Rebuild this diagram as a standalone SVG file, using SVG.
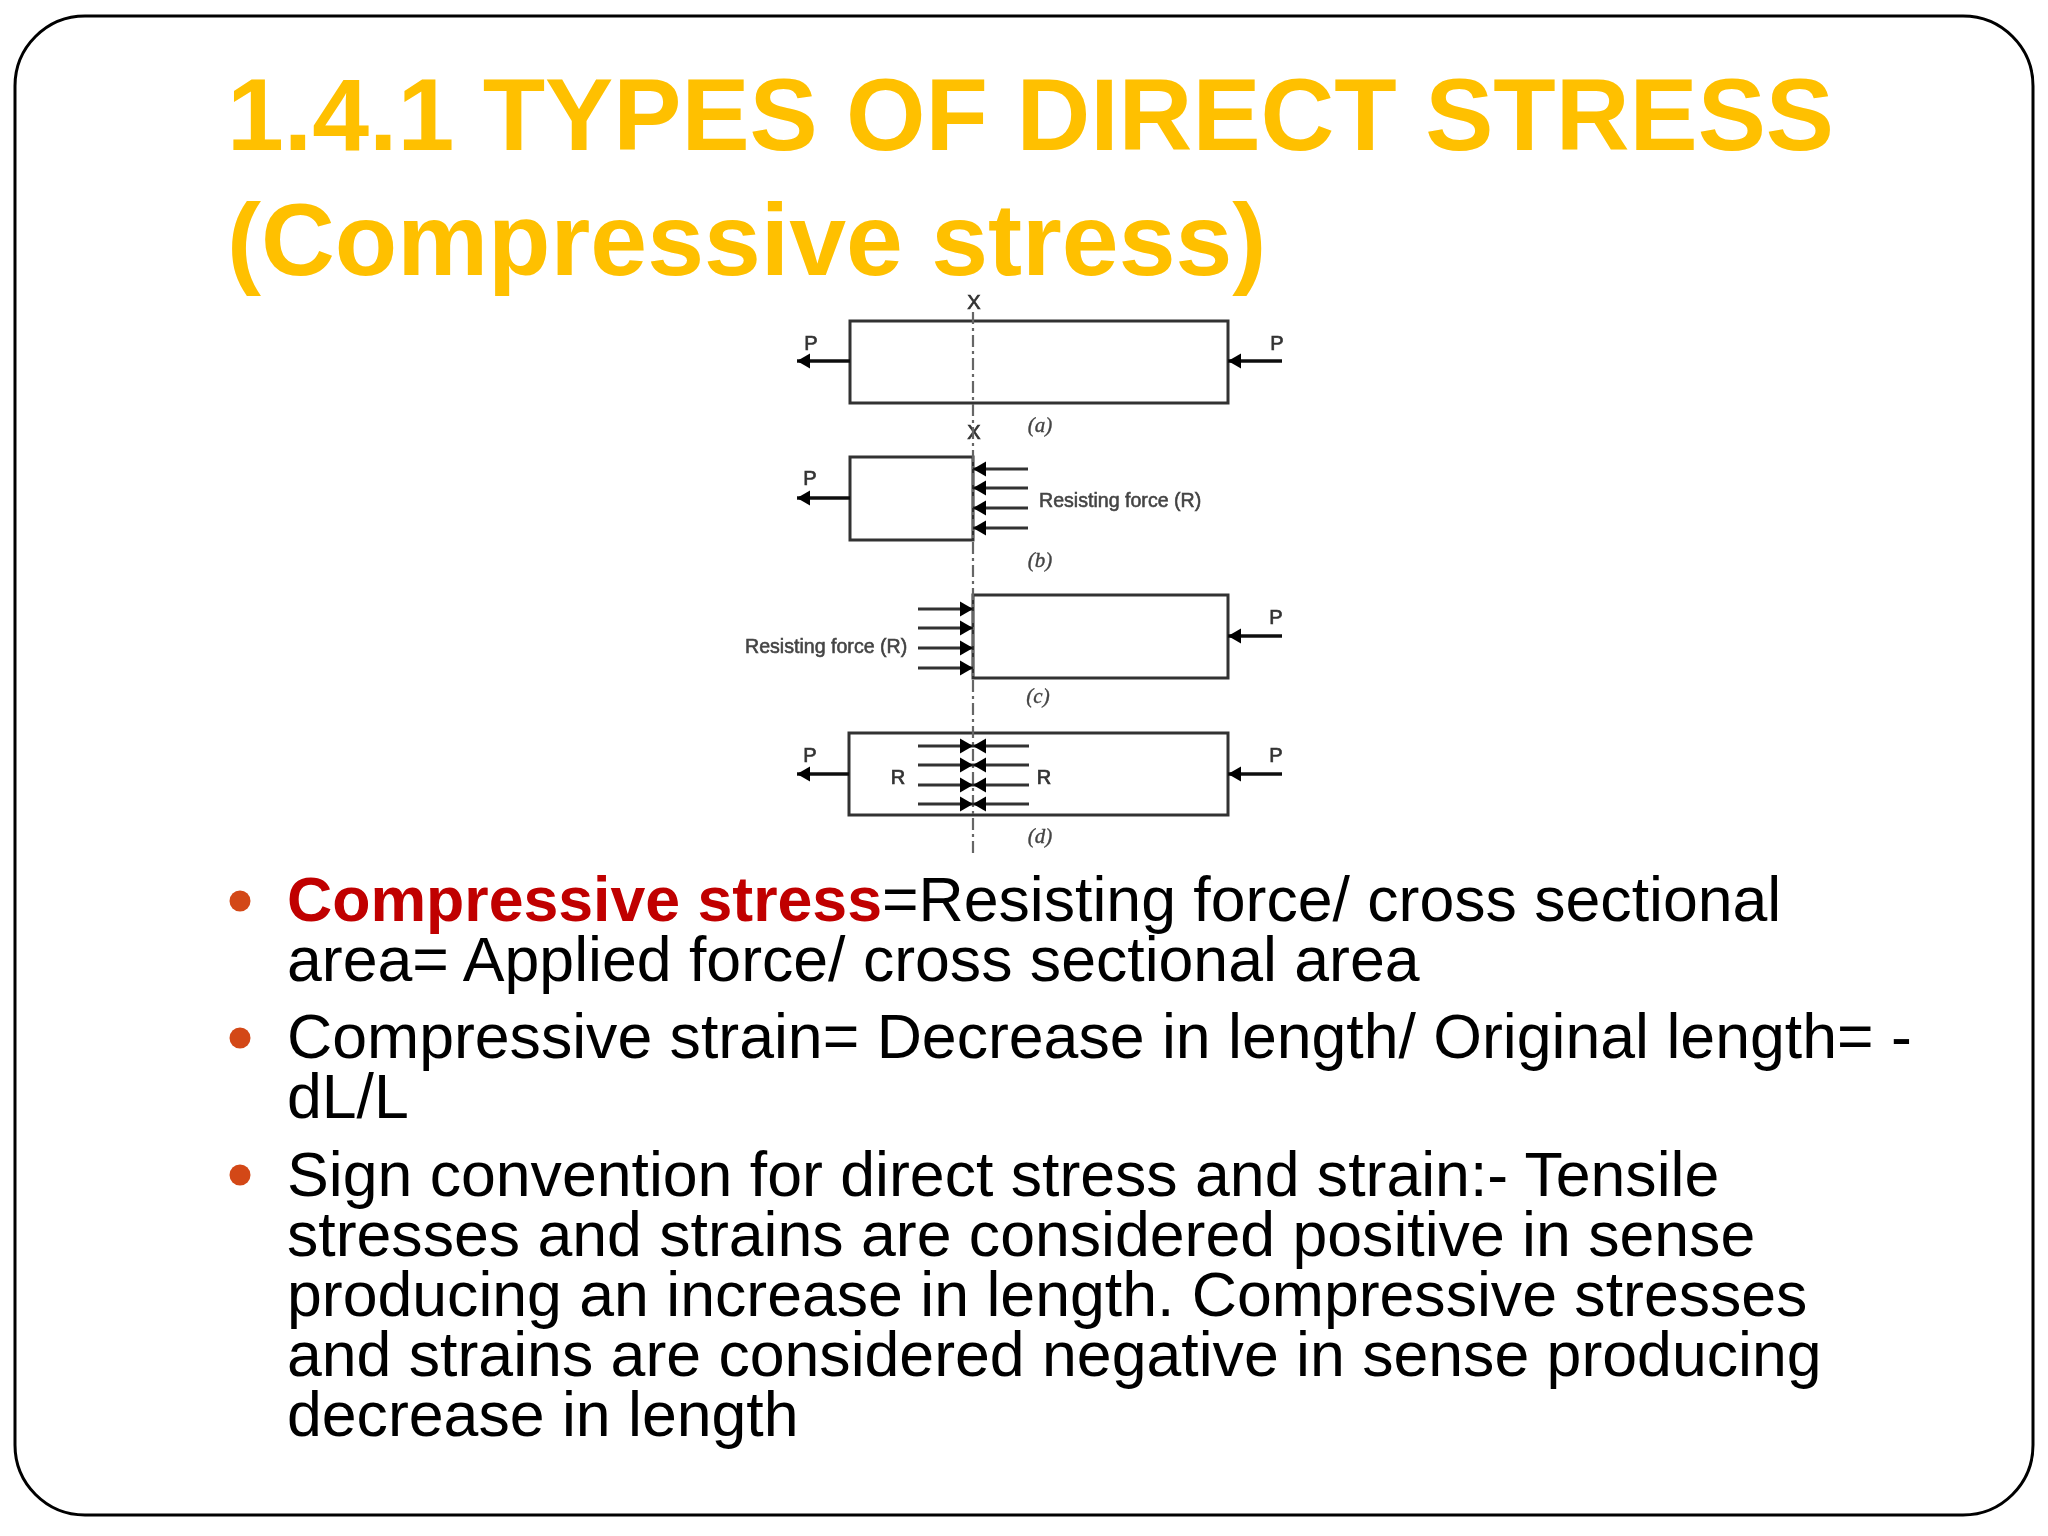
<svg xmlns="http://www.w3.org/2000/svg" width="2048" height="1536" viewBox="0 0 2048 1536">
<style>
.title{font:bold 102.2px "Liberation Sans",Arial,sans-serif;fill:#FFC000}
.body{font:62.6px "Liberation Sans",Arial,sans-serif;fill:#000}
.red{font-weight:bold;fill:#C00000}
.bullet{fill:#D34817}
.box{fill:none;stroke:#333;stroke-width:3}
.lbl{font:20px "Liberation Sans",Arial,sans-serif;fill:#333;stroke:#333;stroke-width:.7;text-anchor:middle}
.res{font:19.6px "Liberation Sans",Arial,sans-serif;fill:#444;stroke:#444;stroke-width:.55}
.cap{font:italic 21px "Liberation Serif","Times New Roman",serif;fill:#444;stroke:#444;stroke-width:.35;text-anchor:middle}
.arr{stroke:#111;stroke-width:3.4;fill:none;marker-end:url(#head)}
.arr2{stroke:#333;stroke-width:2.8;fill:none;marker-end:url(#head)}
.axis{stroke:#666;stroke-width:2.2;stroke-dasharray:12 4 3 4;fill:none}
</style>
<defs>
<marker id="head" markerUnits="userSpaceOnUse" markerWidth="15" markerHeight="16" refX="13" refY="8" orient="auto"><path d="M0 0.5L13 8L0 15.5Z" fill="#000"/></marker>
<filter id="soft" x="-5%" y="-5%" width="110%" height="110%"><feGaussianBlur stdDeviation="0.7"/></filter>
</defs>
<rect width="2048" height="1536" fill="#fff"/>
<rect id="frame" x="15" y="16" width="2018" height="1499" rx="70" ry="70" fill="#fff" stroke="#000" stroke-width="3"/>
<g id="heading">
<text class="title" x="227" y="150">1.4.1 TYPES OF DIRECT STRESS</text>
<text class="title" x="227" y="275">(Compressive stress)</text>
</g>
<g id="figure" filter="url(#soft)">
<g id="fig-a">
<rect class="box" x="850" y="321" width="378" height="82"/>
<text class="lbl" x="974" y="309">X</text>
<text class="lbl" x="811" y="350">P</text>
<text class="lbl" x="1277" y="350">P</text>
<text class="cap" x="1040" y="432">(a)</text>
</g>
<g id="fig-b">
<path class="box" d="M973 457H850V540H973Z"/>
<text class="lbl" x="974" y="439">X</text>
<text class="lbl" x="810" y="485">P</text>
<text class="res" x="1039" y="507">Resisting force (R)</text>
<text class="cap" x="1040" y="567">(b)</text>
</g>
<g id="fig-c">
<path class="box" d="M973 595H1228V678H973Z"/>
<text class="lbl" x="1276" y="624">P</text>
<text class="res" x="745" y="653">Resisting force (R)</text>
<text class="cap" x="1038" y="703">(c)</text>
</g>
<g id="fig-d">
<rect class="box" x="849" y="733" width="379" height="82"/>
<text class="lbl" x="810" y="762">P</text>
<text class="lbl" x="1276" y="762">P</text>
<text class="lbl" x="898" y="784">R</text>
<text class="lbl" x="1044" y="784">R</text>
<text class="cap" x="1040" y="843">(d)</text>
</g>
<g id="connectors">
<path class="axis" d="M973 312V855"/>
<path class="arr" d="M850 361H797"/>
<path class="arr" d="M1282 361H1228"/>
<path class="arr" d="M850 498H797"/>
<path class="arr2" d="M1028 469H973"/>
<path class="arr2" d="M1028 488H973"/>
<path class="arr2" d="M1028 508H973"/>
<path class="arr2" d="M1028 528H973"/>
<path class="arr2" d="M918 609H973"/>
<path class="arr2" d="M918 628H973"/>
<path class="arr2" d="M918 648H973"/>
<path class="arr2" d="M918 668H973"/>
<path class="arr" d="M1282 636H1228"/>
<path class="arr" d="M849 774H797"/>
<path class="arr" d="M1282 774H1228"/>
<path class="arr2" d="M918 746H973"/>
<path class="arr2" d="M918 765H973"/>
<path class="arr2" d="M918 785H973"/>
<path class="arr2" d="M918 804H973"/>
<path class="arr2" d="M1029 746H973"/>
<path class="arr2" d="M1029 765H973"/>
<path class="arr2" d="M1029 785H973"/>
<path class="arr2" d="M1029 804H973"/>
</g>
</g>
<g id="bullet-1">
<circle class="bullet" cx="240" cy="901" r="10.5"/>
<text class="body" x="287" y="920.5"><tspan class="red">Compressive stress</tspan>=Resisting force/ cross sectional</text>
<text class="body" x="287" y="980.5">area= Applied force/ cross sectional area</text>
</g>
<g id="bullet-2">
<circle class="bullet" cx="240" cy="1038" r="10.5"/>
<text class="body" x="287" y="1057.5">Compressive strain= Decrease in length/ Original length= -</text>
<text class="body" x="287" y="1117.5">dL/L</text>
</g>
<g id="bullet-3">
<circle class="bullet" cx="240" cy="1175" r="10.5"/>
<text class="body" x="287" y="1195.5">Sign convention for direct stress and strain:- Tensile</text>
<text class="body" x="287" y="1255.5">stresses and strains are considered positive in sense</text>
<text class="body" x="287" y="1315.5">producing an increase in length. Compressive stresses</text>
<text class="body" x="287" y="1375.5">and strains are considered negative in sense producing</text>
<text class="body" x="287" y="1435.5">decrease in length</text>
</g>
</svg>
